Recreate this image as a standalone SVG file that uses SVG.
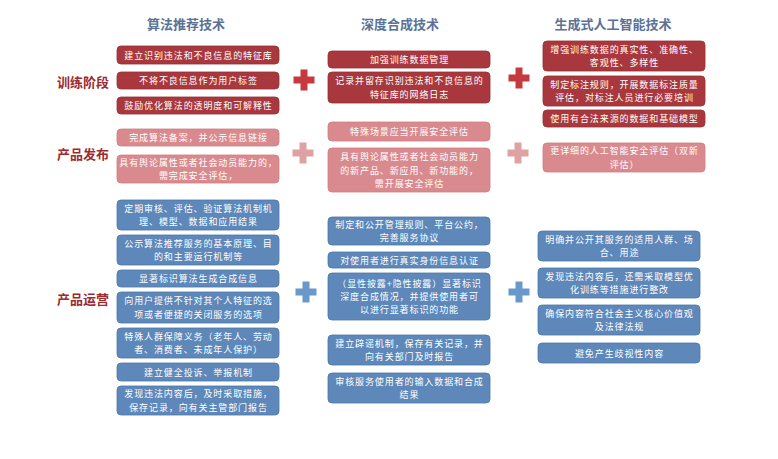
<svg xmlns="http://www.w3.org/2000/svg" width="778" height="459" viewBox="0 0 778 459">
<defs>
<style>
text{font-family:"Noto Sans CJK SC","Noto Sans",sans-serif;}
.hd{font-size:13px;font-weight:bold;fill:#5a7296;text-anchor:middle;dominant-baseline:central;}
.lb{font-size:13px;font-weight:bold;fill:#9e2a30;dominant-baseline:central;}
.t{font-size:9px;letter-spacing:0.9px;fill:#ffffff;text-anchor:middle;dominant-baseline:central;}
.r{fill:#a8383d;stroke:#953034;stroke-width:0.8;}
.p{fill:#d98a8e;stroke:#cf7e82;stroke-width:0.8;}
.b{fill:#5d88b9;stroke:#4c77a8;stroke-width:0.8;}
.pr{fill:#c6393e;}
.pp{fill:#dea1a4;}
.pb{fill:#6a98cb;}
</style>
<path id="plus" d="M-3.5,-10.5H3.5V-3.5H10.5V3.5H3.5V10.5H-3.5V3.5H-10.5V-3.5H-3.5Z"/>
</defs>
<rect width="778" height="459" fill="#ffffff"/>

<g id="headers">
<text class="hd" x="186" y="23">算法推荐技术</text>
<text class="hd" x="400" y="23">深度合成技术</text>
<text class="hd" x="613" y="23">生成式人工智能技术</text>
</g>
<g id="labels">
<text class="lb" x="57" y="81">训练阶段</text>
<text class="lb" x="57" y="153">产品发布</text>
<text class="lb" x="57" y="298">产品运营</text>
</g>

<g id="connectors">
<use href="#plus" class="pr" x="304" y="80"/>
<use href="#plus" class="pr" x="519" y="78"/>
<use href="#plus" class="pp" x="303" y="153"/>
<use href="#plus" class="pp" x="518" y="153"/>
<use href="#plus" class="pb" x="306" y="292"/>
<use href="#plus" class="pb" x="519" y="292"/>
</g>

<g id="n-a1"><rect class="r" x="117" y="46" width="162" height="18" rx="4"/><text class="t" x="198.5" y="55">建立识别违法和不良信息的特征库</text></g>
<g id="n-a2"><rect class="r" x="117" y="72" width="162" height="17" rx="4"/><text class="t" x="198.5" y="80.5">不将不良信息作为用户标签</text></g>
<g id="n-a3"><rect class="r" x="117" y="97" width="162" height="17" rx="4"/><text class="t" x="198.5" y="105.5">鼓励优化算法的透明度和可解释性</text></g>

<g id="n-d1"><rect class="r" x="328" y="51" width="162" height="17" rx="4"/><text class="t" x="409.5" y="59.5">加强训练数据管理</text></g>
<g id="n-d2"><rect class="r" x="328" y="72" width="162" height="31" rx="4"/><text class="t" x="409.5" y="80.9">记录并留存识别违法和不良信息的</text><text class="t" x="409.5" y="94.1">特征库的网络日志</text></g>

<g id="n-g1"><rect class="r" x="543" y="41" width="162" height="30" rx="4"/><text class="t" x="624.5" y="49.4">增强训练数据的真实性、准确性、</text><text class="t" x="624.5" y="62.6">客观性、多样性</text></g>
<g id="n-g2"><rect class="r" x="543" y="76" width="162" height="30" rx="4"/><text class="t" x="624.5" y="84.4">制定标注规则，开展数据标注质量</text><text class="t" x="624.5" y="97.6">评估，对标注人员进行必要培训</text></g>
<g id="n-g3"><rect class="r" x="543" y="110" width="162" height="17" rx="4"/><text class="t" x="624.5" y="118.5">使用有合法来源的数据和基础模型</text></g>

<g id="n-a4"><rect class="p" x="117" y="129" width="162" height="17" rx="4"/><text class="t" x="198.5" y="137.5">完成算法备案，并公示信息链接</text></g>
<g id="n-a5"><rect class="p" x="117" y="155" width="162" height="28" rx="4"/><text class="t" x="198.5" y="162.4">具有舆论属性或者社会动员能力的，</text><text class="t" x="198.5" y="175.6">需完成安全评估，</text></g>
<g id="n-d3"><rect class="p" x="328" y="122" width="162" height="19" rx="4"/><text class="t" x="409.5" y="131.5">特殊场景应当开展安全评估</text></g>
<g id="n-d4"><rect class="p" x="328" y="148" width="162" height="44" rx="4"/><text class="t" x="409.5" y="156.8">具有舆论属性或者社会动员能力</text><text class="t" x="409.5" y="170">的新产品、新应用、新功能的，</text><text class="t" x="409.5" y="183.2">需开展安全评估</text></g>
<g id="n-g4"><rect class="p" x="543" y="143" width="162" height="29" rx="4"/><text class="t" x="624.5" y="150.9">更详细的人工智能安全评估（双新</text><text class="t" x="624.5" y="164.1">评估）</text></g>

<g id="n-a6"><rect class="b" x="117" y="200" width="162" height="30" rx="4"/><text class="t" x="198.5" y="208.4">定期审核、评估、验证算法机制机</text><text class="t" x="198.5" y="221.6">理、模型、数据和应用结果</text></g>
<g id="n-a7"><rect class="b" x="117" y="235" width="162" height="30" rx="4"/><text class="t" x="198.5" y="243.4">公示算法推荐服务的基本原理、目</text><text class="t" x="198.5" y="256.6">的和主要运行机制等</text></g>
<g id="n-a8"><rect class="b" x="117" y="270" width="162" height="17" rx="4"/><text class="t" x="198.5" y="278.5">显著标识算法生成合成信息</text></g>
<g id="n-a9"><rect class="b" x="117" y="292" width="162" height="31" rx="4"/><text class="t" x="198.5" y="300.9">向用户提供不针对其个人特征的选</text><text class="t" x="198.5" y="314.1">项或者便捷的关闭服务的选项</text></g>
<g id="n-a10"><rect class="b" x="117" y="328" width="162" height="30" rx="4"/><text class="t" x="198.5" y="336.4">特殊人群保障义务（老年人、劳动</text><text class="t" x="198.5" y="349.6">者、消费者、未成年人保护）</text></g>
<g id="n-a11"><rect class="b" x="117" y="363" width="162" height="18" rx="4"/><text class="t" x="198.5" y="372">建立健全投诉、举报机制</text></g>
<g id="n-a12"><rect class="b" x="117" y="386" width="162" height="29" rx="4"/><text class="t" x="198.5" y="393.9">发现违法内容后，及时采取措施，</text><text class="t" x="198.5" y="407.1">保存记录，向有关主管部门报告</text></g>

<g id="n-d5"><rect class="b" x="328" y="217" width="162" height="28" rx="4"/><text class="t" x="409.5" y="224.4">制定和公开管理规则、平台公约，</text><text class="t" x="409.5" y="237.6">完善服务协议</text></g>
<g id="n-d6"><rect class="b" x="328" y="252" width="162" height="16" rx="4"/><text class="t" x="409.5" y="260">对使用者进行真实身份信息认证</text></g>
<g id="n-d7"><rect class="b" x="328" y="273" width="162" height="47" rx="4"/><text class="t" x="409.5" y="283.3">（显性披露+隐性披露）显著标识</text><text class="t" x="409.5" y="296.5">深度合成情况，并提供使用者可</text><text class="t" x="409.5" y="309.7">以进行显著标识的功能</text></g>
<g id="n-d8"><rect class="b" x="328" y="335" width="162" height="30" rx="4"/><text class="t" x="409.5" y="343.4">建立辟谣机制，保存有关记录，并</text><text class="t" x="409.5" y="356.6">向有关部门及时报告</text></g>
<g id="n-d9"><rect class="b" x="328" y="373" width="162" height="30" rx="4"/><text class="t" x="409.5" y="381.4">审核服务使用者的输入数据和合成</text><text class="t" x="409.5" y="394.6">结果</text></g>

<g id="n-g5"><rect class="b" x="538" y="231" width="162" height="30" rx="4"/><text class="t" x="619.5" y="239.4">明确并公开其服务的适用人群、场</text><text class="t" x="619.5" y="252.6">合、用途</text></g>
<g id="n-g6"><rect class="b" x="538" y="268" width="162" height="30" rx="4"/><text class="t" x="619.5" y="276.4">发现违法内容后，还需采取模型优</text><text class="t" x="619.5" y="289.6">化训练等措施进行整改</text></g>
<g id="n-g7"><rect class="b" x="538" y="305" width="162" height="30" rx="4"/><text class="t" x="619.5" y="313.4">确保内容符合社会主义核心价值观</text><text class="t" x="619.5" y="326.6">及法律法规</text></g>
<g id="n-g8"><rect class="b" x="538" y="343" width="162" height="20" rx="4"/><text class="t" x="619.5" y="353">避免产生歧视性内容</text></g>
</svg>
